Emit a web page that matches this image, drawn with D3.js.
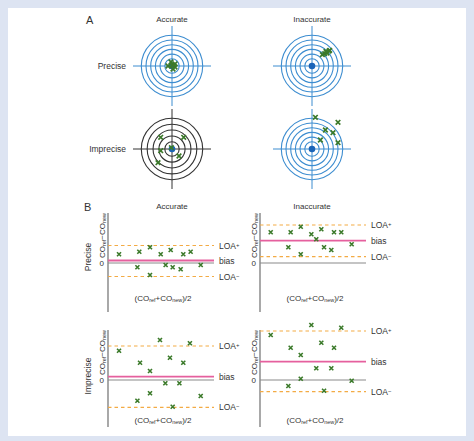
<!DOCTYPE html>
<html lang="en">
  <head>
    <meta charset="utf-8" />
    <script src="https://d3js.org/d3.v7.min.js"></script>
    <style>
      body { margin: 0; background: #dde4f2; }
      text { font-family: "Liberation Sans", Arial, sans-serif; fill: #333; }
    </style>
    <title>Accuracy and precision</title>
  </head>
  <body>
    <div id="my_dataviz"></div>
    <script>
      // ---------------------------//
      //       DATA                 //
      // ---------------------------//

      var colHeaders = ["Accurate", "Inaccurate"];
      var rowHeaders = ["Precise", "Imprecise"];

      // panel A: number of rings per target (TL, TR, BL, BR)
      var ringCounts = [6, 6, 5, 6];
      // hits on each target, offsets from the bullseye (x right, y up)
      var hitsA = [
        [[-1, 4], [-4, 0], [3, -1], [1, -3], [0, 1], [3, 2]],
        [[12.7, 12.4], [17, 15], [15, 13], [10.4, 11.4], [17.7, 15.7], [14, 14.5]],
        [[-11.3, 11.7], [11.7, 11.7], [-11.3, -1.7], [7, -7], [-14, -13.7], [-0.6, 1.3]],
        [[3.4, 31.7], [26, 26.7], [13.4, 19], [21, 16.3], [8.4, 9], [26, 6.3]]
      ];

      // panel B: Bland-Altman points, [mean, difference]
      var pointsB = [
        [[10.5, 8.7], [29.8, 11.3], [40, 15.7], [50.2, 8.7], [59.7, 13], [71.7, 8.7], [78.7, 11.3],
         [28, -4.3], [40, -12], [54.9, -2], [61.6, -4.3], [69.2, -6.3], [88.3, -2]],
        [[10.2, 30.7], [29.2, 30.7], [38.8, 36.3], [48.9, 28.7], [58.4, 33.7], [70.5, 30.7], [77.4, 30.7],
         [53.6, 23.7], [27, 15.7], [61, 15.7], [67.9, 13], [38.8, 8.7], [87.3, 18.7]],
        [[10.5, 29.3], [49.5, 40], [78, 36.7], [30.5, 17.3], [59, 22.3], [71.7, 17.3], [40, 9],
         [54.6, -3.3], [68, -3.3], [40, -13.3], [28, -20.7], [61.6, -26.7], [88.3, -16]],
        [[10.2, 45], [48.9, 55], [77.4, 52.3], [29.2, 32.3], [58.4, 37.3], [70.5, 32.3], [38.8, 25],
         [53.6, 11.7], [67.9, 11.7], [38.8, 1.3], [27, -6], [87.3, -0.7], [61, -10.7]]
      ];
      var biasB = [2.5, 22.3, 3.3, 18.3];
      var loaUpperB = [17.5, 38, 34, 49];
      var loaLowerB = [-13.5, 6.3, -27.3, -11.7];

      // ---------------------------//
      //       LAYOUT               //
      // ---------------------------//

      var W = 474, H = 441;
      var svg = d3.select("#my_dataviz").append("svg")
        .attr("width", W).attr("height", H);

      svg.append("rect").attr("width", W).attr("height", H).attr("fill", "#dde4f2");
      svg.append("rect").attr("x", 8).attr("y", 8)
        .attr("width", 458).attr("height", 428).attr("fill", "#fff");

      var colX = [172, 312];
      var blue = "#3d8dd0", green = "#3b7a2a";

      function cross(g, x, y, s, w) {
        g.append("path")
          .attr("d", `M${x - s},${y - s}L${x + s},${y + s}M${x - s},${y + s}L${x + s},${y - s}`)
          .attr("stroke", green).attr("stroke-width", w).attr("fill", "none");
      }

      // ---------------------------//
      //       PANEL A              //
      // ---------------------------//

      svg.append("text").attr("x", 86).attr("y", 24).style("font-size", "11px").text("A");
      colHeaders.forEach((h, i) => {
        svg.append("text").attr("x", colX[i]).attr("y", 22)
          .attr("text-anchor", "middle").style("font-size", "8px").text(h);
      });
      var rowYA = [66, 149];
      rowHeaders.forEach((h, i) => {
        svg.append("text").attr("x", 126).attr("y", rowYA[i] + 3)
          .attr("text-anchor", "end").style("font-size", "8.5px").text(h);
      });

      hitsA.forEach((hits, k) => {
        var cx = colX[k % 2], cy = rowYA[Math.floor(k / 2)];
        var col = k === 2 ? "#333" : blue;
        var x = d3.scaleLinear().domain([-40, 40]).range([cx - 40, cx + 40]);
        var y = d3.scaleLinear().domain([-40, 40]).range([cy + 40, cy - 40]);
        var r = d3.scaleLinear().domain([1, ringCounts[k]]).range([7.2, 30.7]);
        var g = svg.append("g");
        g.append("line").attr("x1", x(-39)).attr("x2", x(39)).attr("y1", y(0)).attr("y2", y(0))
          .attr("stroke", col).attr("stroke-width", 1);
        g.append("line").attr("x1", x(0)).attr("x2", x(0)).attr("y1", y(-40)).attr("y2", y(40))
          .attr("stroke", col).attr("stroke-width", 1);
        g.selectAll("circle.ring").data(d3.range(1, ringCounts[k] + 1)).enter()
          .append("circle").attr("class", "ring")
          .attr("cx", x(0)).attr("cy", y(0)).attr("r", (d) => r(d))
          .attr("fill", "none").attr("stroke", col).attr("stroke-width", 1.1);
        g.append("circle").attr("cx", x(0)).attr("cy", y(0)).attr("r", 3.3).attr("fill", "#1a64b8");
        hits.forEach((p) => cross(g, x(p[0]), y(p[1]), 2.3, 1.7));
      });

      // ---------------------------//
      //       PANEL B              //
      // ---------------------------//

      svg.append("text").attr("x", 84).attr("y", 211).style("font-size", "11px").text("B");
      var axisX = [108, 260];
      var rowB = [
        { top: 213, bottom: 312, zero: 263, xlab: 301 },
        { top: 330, bottom: 427, zero: 380, xlab: 423 }
      ];
      colHeaders.forEach((h, i) => {
        svg.append("text").attr("x", colX[i]).attr("y", 209)
          .attr("text-anchor", "middle").style("font-size", "8px").text(h);
      });
      rowHeaders.forEach((h, i) => {
        var cy = i === 0 ? 257 : 376;
        svg.append("text").attr("transform", `translate(91,${cy}) rotate(-90)`)
          .attr("text-anchor", "middle").style("font-size", "8.5px").text(h);
      });

      function subText(t, parts, size) {
        parts.forEach((p) => {
          var s = t.append("tspan").text(p[0]);
          if (p[1] === "sub") s.style("font-size", size * 0.68 + "px").attr("baseline-shift", "-28%");
          if (p[1] === "sup") s.style("font-size", size * 0.7 + "px").attr("baseline-shift", "40%");
        });
      }

      pointsB.forEach((pts, k) => {
        var ax = axisX[k % 2], row = rowB[Math.floor(k / 2)];
        var x = d3.scaleLinear().domain([0, 100]).range([ax, ax + 105]);
        var y = d3.scaleLinear().domain([-50, 50]).range([row.zero + 50, row.zero - 50]);
        var x1 = ax, x2 = ax + 106;
        var g = svg.append("g");

        // axis + zero line
        g.append("line").attr("x1", ax).attr("x2", ax).attr("y1", row.top).attr("y2", row.bottom)
          .attr("stroke", "#7a7a7a").attr("stroke-width", 1.3);
        g.append("line").attr("x1", x1).attr("x2", x2).attr("y1", y(0)).attr("y2", y(0))
          .attr("stroke", "#8a8a8a").attr("stroke-width", 1.1);
        g.append("text").attr("x", ax - 4).attr("y", y(0) + 3)
          .attr("text-anchor", "end").style("font-size", "8px").text("0");

        // bias + limits of agreement
        g.append("line").attr("x1", x1).attr("x2", x2).attr("y1", y(biasB[k])).attr("y2", y(biasB[k]))
          .attr("stroke", "#e5609e").attr("stroke-width", 1.8);
        [loaUpperB[k], loaLowerB[k]].forEach((v) => {
          g.append("line").attr("x1", x1).attr("x2", x2).attr("y1", y(v)).attr("y2", y(v))
            .attr("stroke", "#f3ab45").attr("stroke-width", 1.2).attr("stroke-dasharray", "3.5,3");
        });
        var lx = x2 + 5;
        subText(g.append("text").attr("x", lx).attr("y", y(loaUpperB[k]) + 3).style("font-size", "8.5px"),
          [["LOA"], ["+", "sup"]], 8.5);
        g.append("text").attr("x", lx).attr("y", y(biasB[k]) + 3).style("font-size", "8.5px").text("bias");
        subText(g.append("text").attr("x", lx).attr("y", y(loaLowerB[k]) + 3).style("font-size", "8.5px"),
          [["LOA"], ["\u2212", "sup"]], 8.5);

        // axis labels
        subText(g.append("text").attr("transform", `translate(${ax - 3},${row.top}) rotate(-90)`)
          .attr("text-anchor", "end").style("font-size", "8px"),
          [["CO"], ["ref", "sub"], ["\u2212CO"], ["new", "sub"]], 8);
        subText(g.append("text").attr("x", ax + 55).attr("y", row.xlab)
          .attr("text-anchor", "middle").style("font-size", "8px"),
          [["(CO"], ["ref", "sub"], ["+CO"], ["new", "sub"], [")/2"]], 8);

        pts.forEach((p) => cross(g, x(p[0]), y(p[1]), 2, 1.6));
      });
    </script>
  </body>
</html>
